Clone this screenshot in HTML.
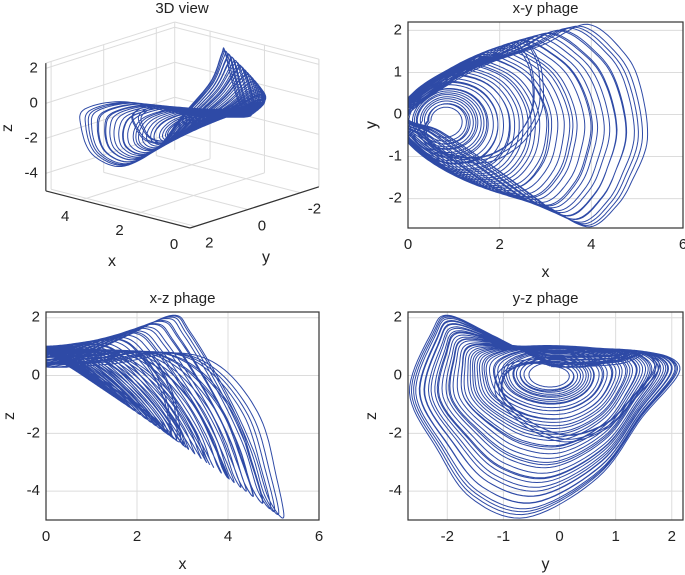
<!DOCTYPE html>
<html><head><meta charset="utf-8">
<style>
html,body{margin:0;padding:0;background:#fff;}
svg{display:block;font-family:"Liberation Sans",sans-serif;}
</style></head>
<body>
<svg id="fig" width="685" height="575" viewBox="0 0 685 575"></svg>
<script>
// ---- data: loop keypoints (x,y,z) of the largest orbit, and orbit amplitudes ----
const keyX = [0, 1.5, 3.0, 4.0, 4.8, 5.15, 5.3, 4.95, 4.6, 4.0, 3.2, 2.8, 1.8, 0.7];
const keyY = [0, 1.1, 1.7, 2.2, 1.5, 0.7, -0.6, -1.6, -2.2, -2.7, -2.3, -2.0, -1.2, -0.4];
const keyZ = [0.3, 0.4, 0.8, 0.2, -1.5, -3.6, -5.0, -4.3, -2.6, -0.6, 1.5, 2.1, 1.4, 0.6];
const center = [0.8, -0.15, 0.0];
const circleR = [2.5, 2.4, 2.6];
const amps = [0.12,0.18,0.25,0.3,0.38,0.45,0.52,0.6,0.68,0.75,0.82,0.88,0.93,0.97,1.0,
  0.15,0.22,0.3,0.4,0.5,0.58,0.66,0.72,0.8,0.86,0.91,0.95,0.99,
  0.2,0.28,0.36,0.47,0.56,0.64,0.7,0.78,0.84,0.9,0.96,
  0.14,0.26,0.34,0.43,0.55,0.62,0.74,0.8,0.87,0.94,0.98];
const ticksX = [0,2,4,6];
const ticksY = [-2,-1,0,1,2];
const ticksZ = [-4,-2,0,2];
const ticksYz = [-2,-1,0,1,2];

const NS="http://www.w3.org/2000/svg";
const svg=document.getElementById('fig');
const COL="#2e4aa6";
function mk(tag,attrs,parent){const e=document.createElementNS(NS,tag);for(const k in attrs)e.setAttribute(k,attrs[k]);(parent||svg).appendChild(e);return e;}
function txt(s,x,y,anchor,size,parent,rot){const t=mk('text',{x:x,y:y,'text-anchor':anchor||'middle','font-size':size||15,fill:'#222','dominant-baseline':'middle'},parent);if(rot)t.setAttribute('transform','rotate(-90 '+x+' '+y+')');t.textContent=s;return t;}

function cr(p0,p1,p2,p3,t){const t2=t*t,t3=t2*t;return 0.5*((2*p1)+(-p0+p2)*t+(2*p0-5*p1+4*p2-p3)*t2+(-p0+3*p1-3*p2+p3)*t3);}
const traj=[];
const nK=keyX.length, SUB=10;
for(let k=0;k<amps.length;k++){
  const a0=amps[k], a1=amps[(k+1)%amps.length];
  for(let i=0;i<nK;i++){
    for(let s=0;s<SUB;s++){
      const t=s/SUB; const u=(i+t)/nK; const a=a0+(a1-a0)*u;
      const idx=j=>((i+j)%nK+nK)%nK;
      const K=[keyX,keyY,keyZ].map(arr=>cr(arr[idx(-1)],arr[idx(0)],arr[idx(1)],arr[idx(2)],t));
      const th=2*Math.PI*u;
      const Cc=[center[0]-circleR[0]*Math.cos(th), center[1]+circleR[1]*Math.sin(th), center[2]+circleR[2]*Math.cos(th)];
      const w=Math.min(1,a*a*1.05);
      const S=K.map((v,j)=>w*v+(1-w)*Cc[j]);
      traj.push([0,1,2].map(j=>center[j]+a*(S[j]-center[j])));
    }
  }
}

function panel(name,box,xr,yr,xt,yt,xi,yi,title,xl,yl){
  const g=mk('g',{});
  
  
  const sx=v=>box[0]+(v-xr[0])/(xr[1]-xr[0])*(box[2]-box[0]);
  const sy=v=>box[3]-(v-yr[0])/(yr[1]-yr[0])*(box[3]-box[1]);
  mk('rect',{x:box[0],y:box[1],width:box[2]-box[0],height:box[3]-box[1],fill:'#fff'},g);
  xt.forEach(v=>{mk('line',{x1:sx(v),x2:sx(v),y1:box[1],y2:box[3],stroke:'#dcdcdc','stroke-width':1},g);txt(String(v),sx(v),box[3]+17,'middle',15,g);});
  yt.forEach(v=>{mk('line',{x1:box[0],x2:box[2],y1:sy(v),y2:sy(v),stroke:'#dcdcdc','stroke-width':1},g);txt(String(v),box[0]-6,sy(v),'end',15,g);});
  const cid='clip-'+name;
  const cp=mk('clipPath',{id:cid},g);mk('rect',{x:box[0],y:box[1],width:box[2]-box[0],height:box[3]-box[1]},cp);
  let d='';traj.forEach((p,i)=>{d+=(i?'L':'M')+sx(p[xi]).toFixed(1)+' '+sy(p[yi]).toFixed(1);});
  const path=mk('path',{d:d,fill:'none',stroke:COL,'stroke-width':1,'clip-path':'url(#'+cid+')'},g);
  
  
  mk('rect',{x:box[0],y:box[1],width:box[2]-box[0],height:box[3]-box[1],fill:'none',stroke:'#333','stroke-width':1.2},g);
  const t=txt(title,(box[0]+box[2])/2,box[1]-13,'middle',15,g);
  
  
  txt(xl,(box[0]+box[2])/2,box[3]+45,'middle',16,g);
  txt(yl,box[0]-36,(box[1]+box[3])/2,'middle',16,g,true);
}
panel('xy-phase-plot',[408,22,683,228],[0,6],[-2.7,2.2],ticksX,ticksY,0,1,'x-y phage','x','y');
panel('xz-phase-plot',[46,312,319,520],[0,6],[-5,2.2],ticksX,ticksZ,0,2,'x-z phage','x','z');
panel('yz-phase-plot',[408,312,683,520],[-2.7,2.2],[-5,2.2],ticksYz,ticksZ,1,2,'y-z phage','y','z');

(function(){
  const g=mk('g',{});
  
  
  const F=[190,228], XMAX=5.3, YMAX=2.2, YMIN=-2.7, ZMIN=-5, ZMAX=2.3;
  const ux=[-27.2,-7.0], uy=[26.3,-8.4], uz=17.5;
  const P=(x,y,z)=>[F[0]+x*ux[0]+(YMAX-y)*uy[0], F[1]+x*ux[1]+(YMAX-y)*uy[1]-(z-ZMIN)*uz];
  const ln=(a,b,c,w)=>mk('line',{x1:a[0],y1:a[1],x2:b[0],y2:b[1],stroke:c,'stroke-width':w||1},g);
  const gc='#dcdcdc';
  ticksZ.forEach(z=>{ln(P(XMAX,YMAX,z),P(XMAX,YMIN,z),gc);ln(P(XMAX,YMIN,z),P(0,YMIN,z),gc);});
  [2,0,-2].forEach(y=>{ln(P(XMAX,y,ZMIN),P(XMAX,y,ZMAX),gc);ln(P(XMAX,y,ZMIN),P(0,y,ZMIN),gc);});
  [0,2,4].forEach(x=>{ln(P(x,YMIN,ZMIN),P(x,YMIN,ZMAX),gc);ln(P(x,YMIN,ZMIN),P(x,YMAX,ZMIN),gc);});
  ln(P(XMAX,YMAX,ZMAX),P(XMAX,YMIN,ZMAX),gc);ln(P(XMAX,YMIN,ZMAX),P(0,YMIN,ZMAX),gc);
  ln(P(XMAX,YMIN,ZMIN),P(XMAX,YMIN,ZMAX),gc);ln(P(0,YMIN,ZMIN),P(0,YMIN,ZMAX),gc);
  ln(P(XMAX,YMAX,ZMIN),P(XMAX,YMAX,ZMAX),'#333',1.2);
  ln(P(0,YMAX,ZMIN),P(XMAX,YMAX,ZMIN),'#333',1.2);
  ln(P(0,YMAX,ZMIN),P(0,YMIN,ZMIN),'#333',1.2);
  ticksZ.forEach(z=>{const p=P(XMAX,YMAX,z);txt(String(z),p[0]-8,p[1],'end',15,g);});
  [0,2,4].forEach(x=>{const p=P(x,YMAX,ZMIN);txt(String(x),p[0]-16,p[1]+17,'middle',15,g);});
  [2,0,-2].forEach(y=>{const p=P(0,y,ZMIN);txt(String(y),p[0]+14,p[1]+17,'middle',15,g);});
  let d='';traj.forEach((p,i)=>{const q=P(p[0],p[1],p[2]);d+=(i?'L':'M')+q[0].toFixed(1)+' '+q[1].toFixed(1);});
  const path=mk('path',{d:d,fill:'none',stroke:COL,'stroke-width':1},g);
  
  
  txt('3D view',182,9,'middle',15,g);
  txt('x',112,262,'middle',16,g);
  txt('y',266,258,'middle',16,g);
  txt('z',8,128,'middle',16,g,true);
})();
</script>
</body></html>
